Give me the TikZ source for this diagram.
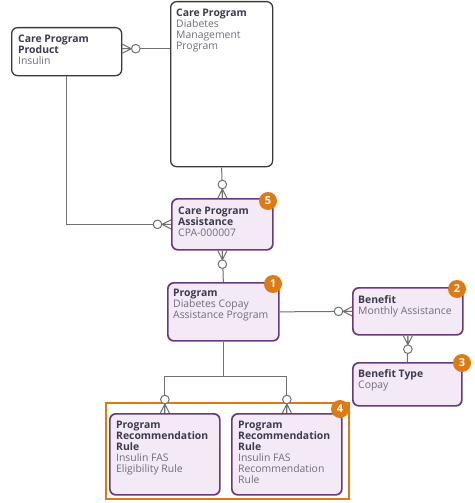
\documentclass[tikz,border=0pt]{standalone}
\usepackage{fontspec}
\setmainfont{Open Sans}
\usetikzlibrary{calc}
\definecolor{ink}{HTML}{3A3A3A}
\definecolor{purp}{HTML}{6A3A7C}
\definecolor{lav}{HTML}{F3EAF6}
\definecolor{orng}{HTML}{DD7A14}
\definecolor{lgray}{HTML}{707070}
\definecolor{ttl}{HTML}{3D3A4F}
\definecolor{sub}{HTML}{6F6D7A}
\newcommand\hd[1]{\textcolor{ttl}{\bfseries #1}}
\tikzset{
  erd/.style={draw=ink, line width=1.3pt, rounded corners=6pt, fill=white, inner sep=0pt, anchor=north west},
  pbox/.style={draw=purp, line width=1.7pt, rounded corners=6pt, fill=lav, inner sep=0pt, anchor=north west},
  txt/.style={anchor=north west, align=left, inner sep=0pt, text=sub, font=\fontsize{10.4}{11}\selectfont},
  badge/.style={circle, fill=orng, text=white, font=\bfseries\fontsize{11}{11}\selectfont, minimum size=18pt, inner sep=0pt},
  conn/.style={draw=lgray, line width=1pt},
  grpframe/.style={draw=orng, line width=2.4pt},
  zm/.pic={
    \draw[conn] (0,-4.5) -- (9,0) -- (0,4.5) (0,0) -- (9,0);
    \draw[conn, fill=white] (13.5,0) circle[radius=4.3pt];
  }
}
\begin{document}
\begin{tikzpicture}[x=1pt,y=-1pt]
\useasboundingbox[fill=white] (0,0) rectangle (474,503);

% boxes
\node[erd, minimum width=110pt, minimum height=48pt] (cpp) at (11,27) {};
\node[erd, minimum width=102pt, minimum height=165pt] (cp) at (170,1) {};
\node[pbox, minimum width=101pt, minimum height=51pt] (cpa) at (171,198) {};
\node[pbox, minimum width=111pt, minimum height=58pt] (prog) at (167,282) {};
\node[pbox, minimum width=110pt, minimum height=47pt] (ben) at (352,287) {};
\node[pbox, minimum width=109pt, minimum height=43pt] (bty) at (352,362) {};
\node[grpframe, inner sep=0pt, anchor=north west, minimum width=243pt, minimum height=96pt] (grp) at (105,402) {};
\node[pbox, minimum width=110pt, minimum height=81pt] (prl) at (109,413) {};
\node[pbox, minimum width=110pt, minimum height=81pt] (prr) at (231,413) {};

\coordinate (a1) at ($(cpp.north east)!0.44!(cpp.south east)$);
\coordinate (bus) at ($(prog.south)+(0,35)$);

% connectors
\draw[conn] (a1) -- (a1 -| cp.west);
\draw[conn] (cp.south) -- (cpa.north);
\draw[conn] (cpp.south) |- (cpa.west);
\draw[conn] (cpa.south) -- (prog.north);
\draw[conn] (prog.east) -- (ben.west);
\draw[conn] (ben.south) -- (bty.north);
\draw[conn] (prog.south) -- (bus);
\draw[conn] (prl.north) |- (bus) -| (prr.north);

\pic at (a1) {zm};
\pic[rotate=90] at (cpa.north) {zm};
\pic[rotate=180] at (cpa.west) {zm};
\pic[rotate=-90] at (cpa.south) {zm};
\pic[rotate=180] at (ben.west) {zm};
\pic[rotate=-90] at (ben.south) {zm};
\pic[rotate=90] at (prl.north) {zm};
\pic[rotate=90] at (prr.north) {zm};

% texts
\node[txt] (tcpp) at (18,35) {\hd{Care Program}\\\hd{Product}\\Insulin};
\node[txt] (tcp) at (176,9) {\hd{Care Program}\\Diabetes\\Management\\Program};
\node[txt] (tcpa) at (178,207) {\hd{Care Program}\\\hd{Assistance}\\CPA-000007};
\node[txt] (tprog) at (173,289) {\hd{Program}\\Diabetes Copay\\Assistance Program};
\node[txt] (tben) at (358,295) {\hd{Benefit}\\Monthly Assistance};
\node[txt] (tbty) at (358,369) {\hd{Benefit Type}\\Copay};
\node[txt] (tprl) at (116,421) {\hd{Program}\\\hd{Recommendation}\\\hd{Rule}\\Insulin FAS\\Eligibility Rule};
\node[txt] (tprr) at (238,421) {\hd{Program}\\\hd{Recommendation}\\\hd{Rule}\\Insulin FAS\\Recommendation\\Rule};

% badges
\node[badge] (b5) at (268,201) {5};
\node[badge] (b1) at (273,284) {1};
\node[badge] (b2) at (457,289) {2};
\node[badge] (b3) at (462,363) {3};
\node[badge] (b4) at (340,409) {4};
\end{tikzpicture}
\end{document}
